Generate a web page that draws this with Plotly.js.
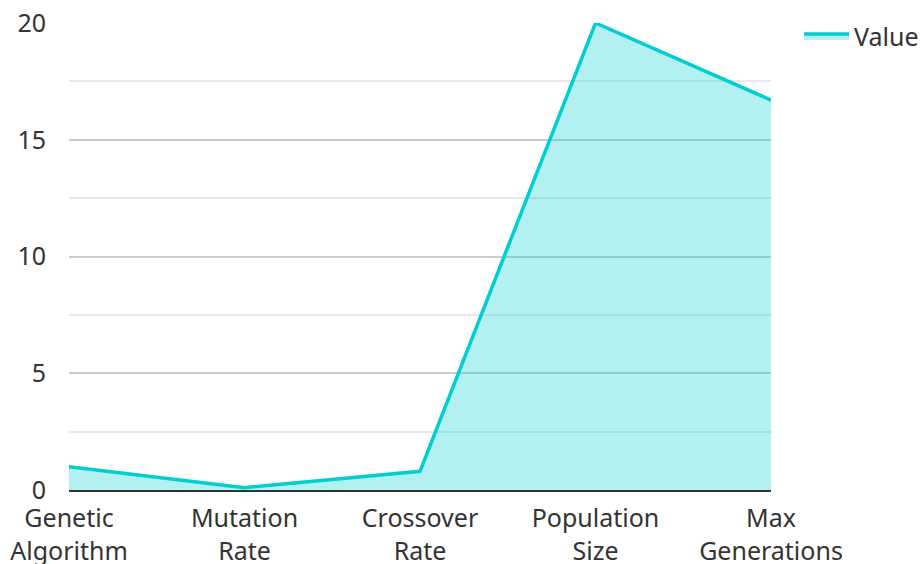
<!DOCTYPE html>
<html>
<head>
<meta charset="utf-8">
<script src="https://cdn.plot.ly/plotly-3.0.1.min.js"></script>
<style>html,body{margin:0;padding:0;background:#fff;}#chart{width:921px;height:564px;}</style>
</head>
<body>
<div id="chart"></div>
<script>
const categories = ["Genetic<br>Algorithm", "Mutation<br>Rate", "Crossover<br>Rate", "Population<br>Size", "Max<br>Generations"];
const values = [1, 0.1, 0.8, 20, 16.7];
const seriesName = "Value";

const trace = {
  x: categories,
  y: values,
  name: seriesName,
  type: "scatter",
  mode: "lines",
  fill: "tozeroy",
  fillcolor: "rgba(0,206,209,0.3)",
  line: {color: "#00CED1", width: 3.5},
  hoverinfo: "x+y"
};

const layout = {
  width: 921, height: 564,
  margin: {l: 69, r: 150, t: 23, b: 74, autoexpand: false},
  paper_bgcolor: "#fff", plot_bgcolor: "#fff",
  font: {family: "Noto Sans, Open Sans, sans-serif", size: 25, color: "#333"},
  showlegend: true,
  legend: {x: 1.04, y: 1.021, xanchor: "left", yanchor: "top", itemwidth: 45, font: {size: 25, color: "#333"}, bgcolor: "rgba(0,0,0,0)"},
  xaxis: {
    type: "category",
    range: [0, 4],
    showgrid: false,
    zeroline: false,
    showline: true, linecolor: "#333", linewidth: 2,
    ticks: "", tickfont: {size: 25, color: "#333"},
    ticklabelstandoff: 5
  },
  yaxis: {
    range: [0, 20],
    dtick: 5,
    showgrid: true, gridcolor: "#cccccc", gridwidth: 1.5,
    minor: {dtick: 2.5, showgrid: true, gridcolor: "#e8e8e8", gridwidth: 1.5},
    zeroline: false,
    showline: false,
    ticks: "", tickfont: {size: 25, color: "#333"},
    ticklabelstandoff: 22
  }
};

Plotly.newPlot("chart", [trace], layout, {displayModeBar: false});
</script>
</body>
</html>
